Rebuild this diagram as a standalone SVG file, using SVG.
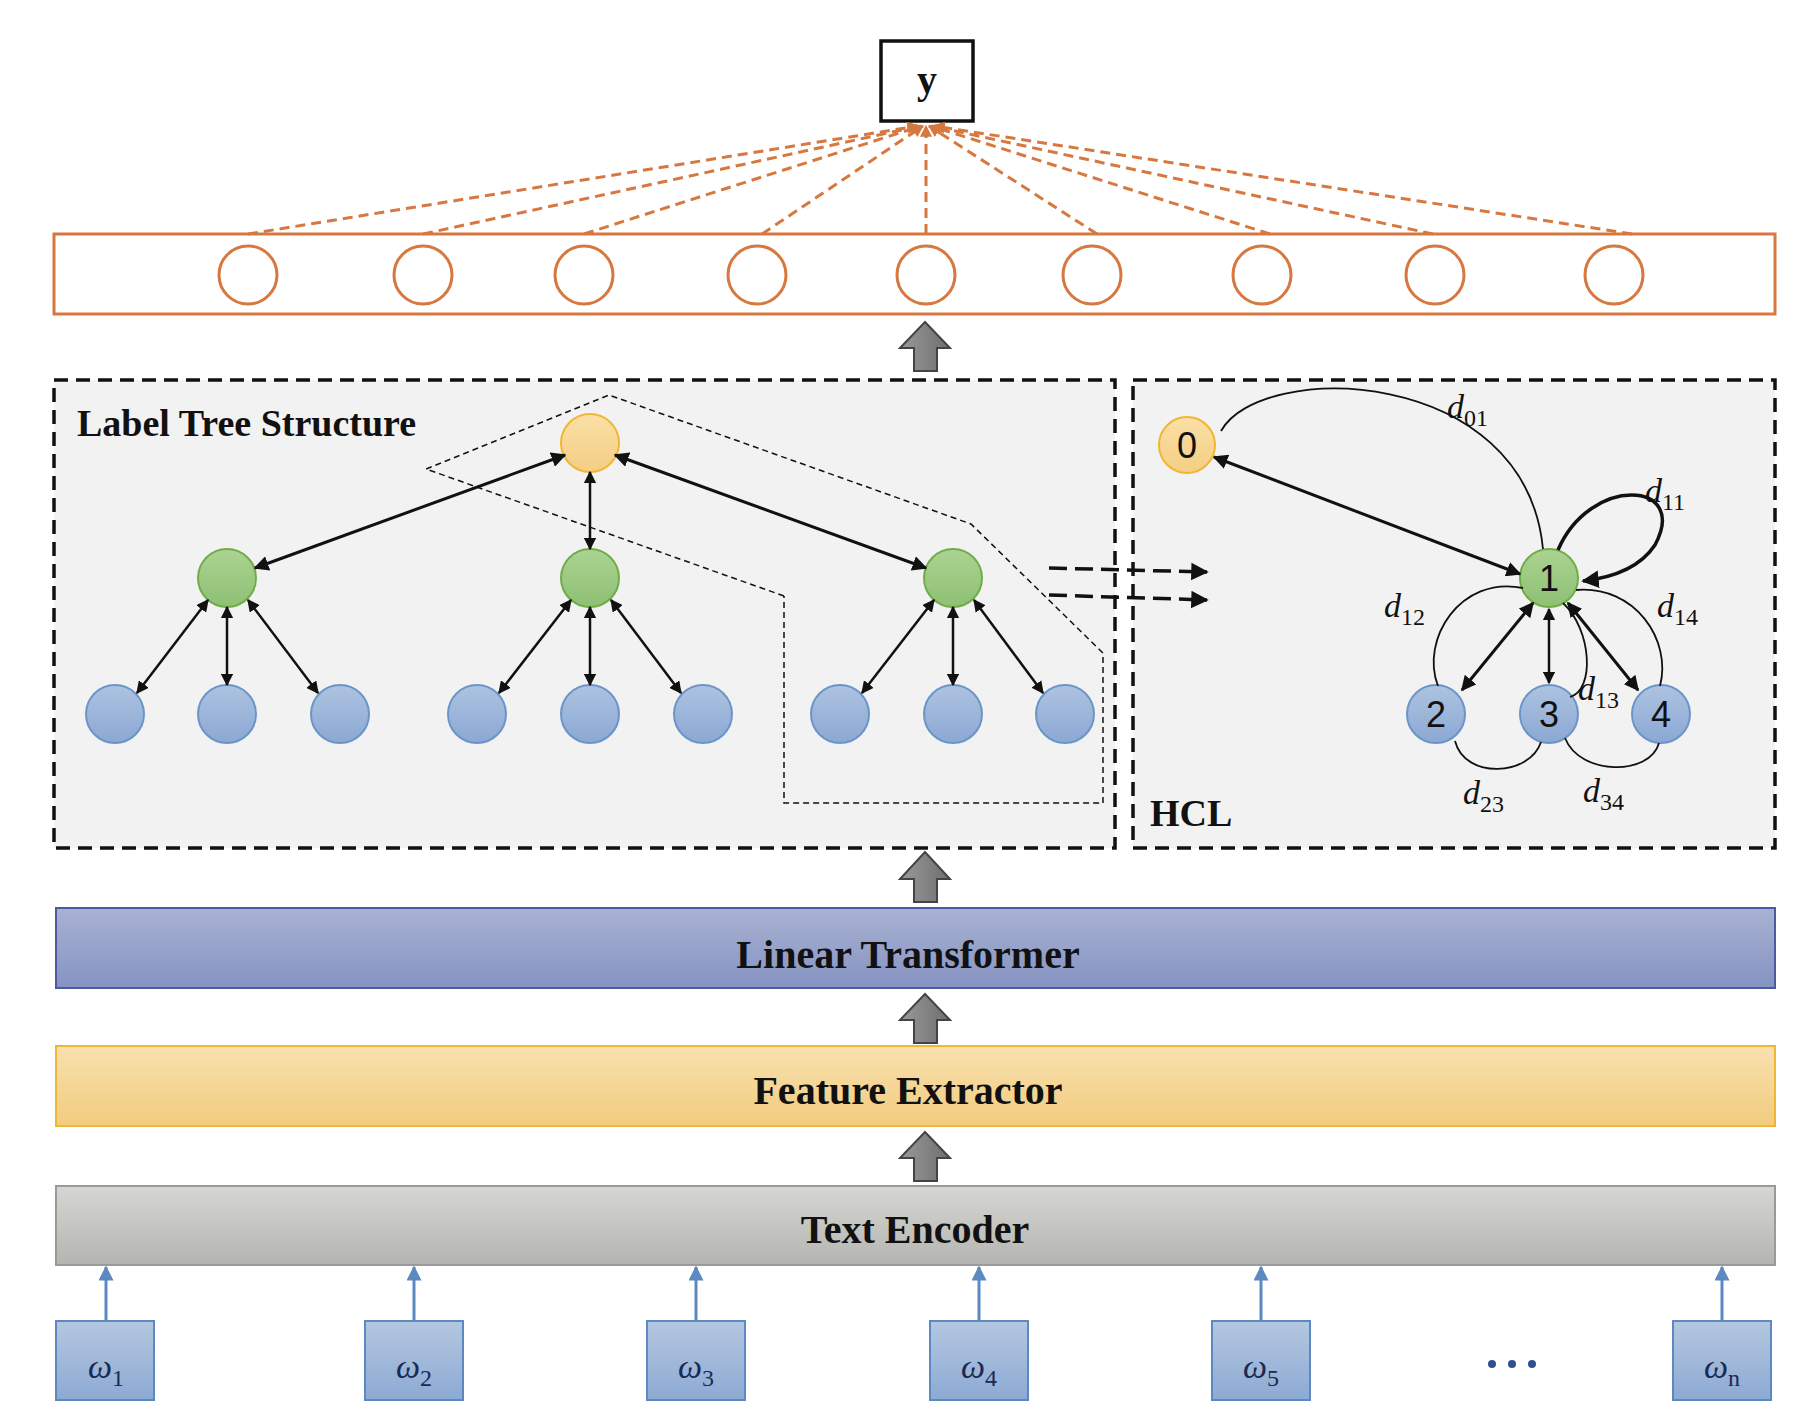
<svg xmlns="http://www.w3.org/2000/svg" width="1802" height="1420" viewBox="0 0 1802 1420">
<defs>
<linearGradient id="gLT" x1="0" y1="0" x2="0" y2="1"><stop offset="0" stop-color="#A9B2D2"/><stop offset="1" stop-color="#8593C2"/></linearGradient>
<linearGradient id="gFE" x1="0" y1="0" x2="0" y2="1"><stop offset="0" stop-color="#F8E0AE"/><stop offset="1" stop-color="#F2CC7F"/></linearGradient>
<linearGradient id="gTE" x1="0" y1="0" x2="0" y2="1"><stop offset="0" stop-color="#D6D6D2"/><stop offset="1" stop-color="#B4B4B0"/></linearGradient>
<linearGradient id="gW" x1="0" y1="0" x2="0" y2="1"><stop offset="0" stop-color="#B4C7E0"/><stop offset="1" stop-color="#8DAAD4"/></linearGradient>
<linearGradient id="gB" x1="0" y1="0" x2="0" y2="1"><stop offset="0" stop-color="#ADC3E1"/><stop offset="1" stop-color="#8BA8D3"/></linearGradient>
<linearGradient id="gG" x1="0" y1="0" x2="0" y2="1"><stop offset="0" stop-color="#ACD392"/><stop offset="1" stop-color="#8DC074"/></linearGradient>
<linearGradient id="gY" x1="0" y1="0" x2="0" y2="1"><stop offset="0" stop-color="#FADFA6"/><stop offset="1" stop-color="#F4CF83"/></linearGradient>
<linearGradient id="gA" x1="0" y1="0" x2="1" y2="0"><stop offset="0" stop-color="#9A9A9A"/><stop offset="1" stop-color="#6E6E6E"/></linearGradient>
<marker id="ah" viewBox="0 0 10 10" refX="9" refY="5" markerWidth="5" markerHeight="5" orient="auto-start-reverse"><path d="M0,0 L10,5 L0,10 z" fill="#111"/></marker>
<marker id="ahb" viewBox="0 0 10 10" refX="9" refY="5" markerWidth="5" markerHeight="6" orient="auto"><path d="M0,0 L10,5 L0,10 z" fill="#111"/></marker>
<marker id="ao" viewBox="0 0 10 10" refX="9" refY="5" markerWidth="4" markerHeight="4" orient="auto"><path d="M0,0 L10,5 L0,10 z" fill="#D6783F"/></marker>
<marker id="abl" viewBox="0 0 10 10" refX="9" refY="5" markerWidth="5" markerHeight="5" orient="auto"><path d="M0,0 L10,5 L0,10 z" fill="#5B89C0"/></marker>
<style>
.bar{font-family:"Liberation Serif",serif;font-weight:bold;font-size:40px;fill:#111;text-anchor:middle}
.t{font-family:"Liberation Serif",serif;font-weight:bold;font-size:38px;fill:#111}
.d{font-family:"Liberation Serif",serif;font-style:italic;font-size:34px;fill:#111}
.sub{font-style:normal;font-size:24px}
.w{font-family:"Liberation Serif",serif;font-style:italic;font-size:34px;fill:#1a2a50;text-anchor:middle}
.n{font-family:"Liberation Sans",sans-serif;font-size:36px;fill:#111;text-anchor:middle}
.blue{fill:url(#gB);stroke:#6B95C8;stroke-width:2}
.green{fill:url(#gG);stroke:#70AD47;stroke-width:2}
.yel{fill:url(#gY);stroke:#F2B632;stroke-width:2}
.oc{fill:#fff;stroke:#D6783F;stroke-width:3}
.od{stroke:#D6783F;stroke-width:3;stroke-dasharray:10 6;fill:none;marker-end:url(#ao)}
.ba{stroke:#111;stroke-width:3;fill:none;marker-start:url(#ah);marker-end:url(#ah)}
.ba2{stroke:#111;stroke-width:2.5;fill:none;marker-start:url(#ah);marker-end:url(#ah)}
.cv{stroke:#111;stroke-width:1.8;fill:none}
.ga{fill:url(#gA);stroke:#444;stroke-width:2}
.wb{fill:url(#gW);stroke:#5B89C0;stroke-width:2}
.wa{stroke:#5B89C0;stroke-width:3;marker-end:url(#abl)}
</style>
</defs>

<!-- bars -->
<g id="panels">
<rect x="54" y="380" width="1061" height="468" fill="#F2F2F2" stroke="#111" stroke-width="3.5" stroke-dasharray="14 8"/>
<rect x="1133" y="380" width="642" height="468" fill="#F2F2F2" stroke="#111" stroke-width="3.5" stroke-dasharray="14 8"/>
<text class="t" x="77" y="436">Label Tree Structure</text>
<text class="t" x="1150" y="826">HCL</text>
</g>

<g id="output">
<rect x="54" y="234" width="1721" height="80" fill="#fff" stroke="#D6783F" stroke-width="3"/>
<circle class="oc" cx="248" cy="275" r="29"/><circle class="oc" cx="423" cy="275" r="29"/><circle class="oc" cx="584" cy="275" r="29"/>
<circle class="oc" cx="757" cy="275" r="29"/><circle class="oc" cx="926" cy="275" r="29"/><circle class="oc" cx="1092" cy="275" r="29"/>
<circle class="oc" cx="1262" cy="275" r="29"/><circle class="oc" cx="1435" cy="275" r="29"/><circle class="oc" cx="1614" cy="275" r="29"/>
</g>
<g id="y"><rect x="881" y="41" width="92" height="80" fill="#fff" stroke="#111" stroke-width="3.5"/><text x="927" y="93" class="bar" font-size="38">y</text></g>

<g id="lt"><rect x="56" y="908" width="1719" height="80" fill="url(#gLT)" stroke="#4A5BA0" stroke-width="2"/><text class="bar" x="908" y="968">Linear Transformer</text></g>
<g id="fe"><rect x="56" y="1046" width="1719" height="80" fill="url(#gFE)" stroke="#F0B832" stroke-width="2"/><text class="bar" x="908" y="1104">Feature Extractor</text></g>
<g id="te"><rect x="56" y="1186" width="1719" height="79" fill="url(#gTE)" stroke="#9A9A9A" stroke-width="2"/><text class="bar" x="915" y="1243">Text Encoder</text></g>

<g id="words">
<rect class="wb" x="56" y="1321" width="98" height="79"/><text class="w" x="106" y="1378">ω<tspan class="sub" dy="8">1</tspan></text>
<rect class="wb" x="365" y="1321" width="98" height="79"/><text class="w" x="414" y="1378">ω<tspan class="sub" dy="8">2</tspan></text>
<rect class="wb" x="647" y="1321" width="98" height="79"/><text class="w" x="696" y="1378">ω<tspan class="sub" dy="8">3</tspan></text>
<rect class="wb" x="930" y="1321" width="98" height="79"/><text class="w" x="979" y="1378">ω<tspan class="sub" dy="8">4</tspan></text>
<rect class="wb" x="1212" y="1321" width="98" height="79"/><text class="w" x="1261" y="1378">ω<tspan class="sub" dy="8">5</tspan></text>
<rect class="wb" x="1673" y="1321" width="98" height="79"/><text class="w" x="1722" y="1378">ω<tspan class="sub" dy="8" font-style="italic">n</tspan></text>
<circle cx="1492" cy="1364" r="4" fill="#2F4F8F"/><circle cx="1512" cy="1364" r="4" fill="#2F4F8F"/><circle cx="1532" cy="1364" r="4" fill="#2F4F8F"/>
</g>

<!-- tree nodes -->
<g id="tree">
<circle class="yel" cx="590" cy="443" r="29"/>
<circle class="green" cx="227" cy="578" r="29"/><circle class="green" cx="590" cy="578" r="29"/><circle class="green" cx="953" cy="578" r="29"/>
<circle class="blue" cx="115" cy="714" r="29"/><circle class="blue" cx="227" cy="714" r="29"/><circle class="blue" cx="340" cy="714" r="29"/>
<circle class="blue" cx="477" cy="714" r="29"/><circle class="blue" cx="590" cy="714" r="29"/><circle class="blue" cx="703" cy="714" r="29"/>
<circle class="blue" cx="840" cy="714" r="29"/><circle class="blue" cx="953" cy="714" r="29"/><circle class="blue" cx="1065" cy="714" r="29"/>
</g>
<g id="hcl">
<circle class="yel" cx="1187" cy="445" r="28"/><text class="n" x="1187" y="458">0</text>
<circle class="green" cx="1549" cy="578" r="29"/><text class="n" x="1549" y="591">1</text>
<circle class="blue" cx="1436" cy="714" r="29"/><text class="n" x="1436" y="727">2</text>
<circle class="blue" cx="1549" cy="714" r="29"/><text class="n" x="1549" y="727">3</text>
<circle class="blue" cx="1661" cy="714" r="29"/><text class="n" x="1661" y="727">4</text>
<text class="d" x="1447" y="418">d<tspan class="sub" dy="8">01</tspan></text>
<text class="d" x="1645" y="502">d<tspan class="sub" dy="8">11</tspan></text>
<text class="d" x="1384" y="617">d<tspan class="sub" dy="8">12</tspan></text>
<text class="d" x="1657" y="617">d<tspan class="sub" dy="8">14</tspan></text>
<text class="d" x="1578" y="700">d<tspan class="sub" dy="8">13</tspan></text>
<text class="d" x="1463" y="804">d<tspan class="sub" dy="8">23</tspan></text>
<text class="d" x="1583" y="802">d<tspan class="sub" dy="8">34</tspan></text>
</g>

<g id="connectors">
<line class="od" x1="248" y1="234" x2="918" y2="126"/>
<line class="od" x1="423" y1="234" x2="920" y2="126"/>
<line class="od" x1="584" y1="234" x2="921" y2="126"/>
<line class="od" x1="762" y1="234" x2="923" y2="126"/>
<line class="od" x1="926" y1="234" x2="926" y2="126"/>
<line class="od" x1="1097" y1="234" x2="929" y2="126"/>
<line class="od" x1="1270" y1="234" x2="931" y2="126"/>
<line class="od" x1="1433" y1="234" x2="932" y2="126"/>
<line class="od" x1="1632" y1="234" x2="934" y2="126"/>

<polygon class="ga" points="914,371 937,371 937,348 950,348 925,322 900,348 914,348"/>
<polygon class="ga" points="914,902 937,902 937,879 950,879 925,852 900,879 914,879"/>
<polygon class="ga" points="914,1043 937,1043 937,1020 950,1020 925,994 900,1020 914,1020"/>
<polygon class="ga" points="914,1181 937,1181 937,1158 950,1158 925,1132 900,1158 914,1158"/>

<line class="wa" x1="106" y1="1321" x2="106" y2="1267"/>
<line class="wa" x1="414" y1="1321" x2="414" y2="1267"/>
<line class="wa" x1="696" y1="1321" x2="696" y2="1267"/>
<line class="wa" x1="979" y1="1321" x2="979" y2="1267"/>
<line class="wa" x1="1261" y1="1321" x2="1261" y2="1267"/>
<line class="wa" x1="1722" y1="1321" x2="1722" y2="1267"/>

<polyline points="784,596 426,469 609,395 971,524 1103,653 1103,803 784,803 784,596" fill="none" stroke="#111" stroke-width="1.5" stroke-dasharray="6 4"/>

<line class="ba" x1="565" y1="455" x2="255" y2="568"/>
<line class="ba2" x1="590" y1="472" x2="590" y2="549"/>
<line class="ba" x1="615" y1="455" x2="926" y2="568"/>
<line class="ba2" x1="208" y1="600" x2="137" y2="693"/><line class="ba2" x1="227" y1="607" x2="227" y2="685"/><line class="ba2" x1="248" y1="600" x2="318" y2="693"/>
<line class="ba2" x1="571" y1="600" x2="499" y2="693"/><line class="ba2" x1="590" y1="607" x2="590" y2="685"/><line class="ba2" x1="611" y1="600" x2="681" y2="693"/>
<line class="ba2" x1="934" y1="600" x2="862" y2="693"/><line class="ba2" x1="953" y1="607" x2="953" y2="685"/><line class="ba2" x1="974" y1="600" x2="1043" y2="693"/>

<line x1="1049" y1="568" x2="1207" y2="572" stroke="#111" stroke-width="3.5" stroke-dasharray="18 8" marker-end="url(#ahb)"/>
<line x1="1049" y1="595" x2="1207" y2="600" stroke="#111" stroke-width="3.5" stroke-dasharray="18 8" marker-end="url(#ahb)"/>

<line class="ba" x1="1214" y1="457" x2="1520" y2="574"/>
<line class="ba" x1="1533" y1="603" x2="1462" y2="690"/>
<line class="ba2" x1="1549" y1="609" x2="1549" y2="683"/>
<line class="ba" x1="1568" y1="603" x2="1638" y2="690"/>
<path class="cv" d="M1221,431 C1260,360 1525,365 1543,549"/>
<path d="M1558,550 C1590,475 1690,480 1655,545 Q1635,575 1583,581" fill="none" stroke="#111" stroke-width="3.5" marker-end="url(#ahb)"/>
<path class="cv" d="M1523,588 C1460,575 1420,640 1438,686"/>
<path class="cv" d="M1576,590 C1635,585 1672,640 1660,686"/>
<path class="cv" d="M1563,603 C1592,630 1595,690 1570,697"/>
<path class="cv" d="M1455,741 C1465,780 1530,776 1541,742"/>
<path class="cv" d="M1565,738 C1580,776 1650,776 1659,743"/>
</g>
</svg>
